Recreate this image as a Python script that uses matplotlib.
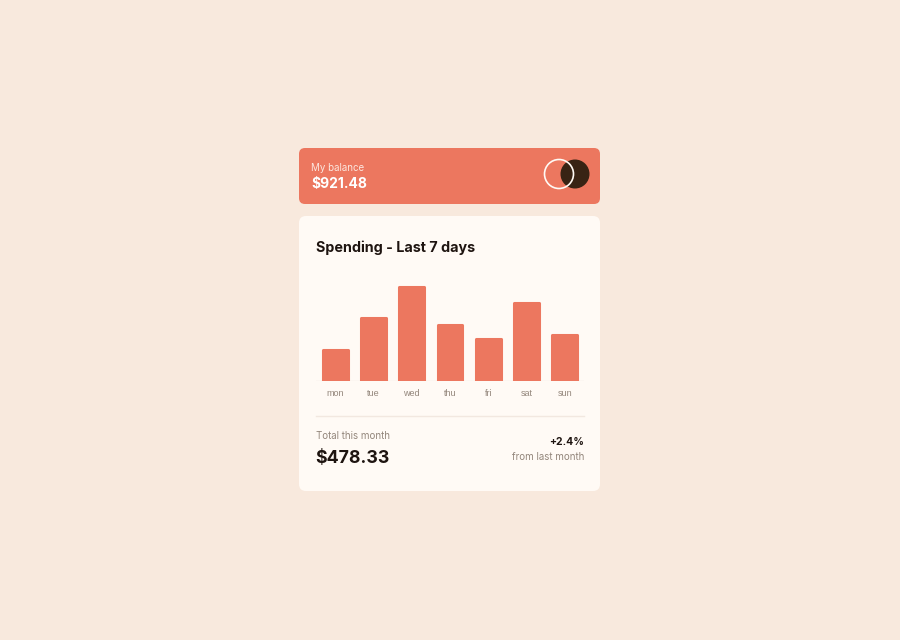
import matplotlib.pyplot as plt
from matplotlib.patches import FancyBboxPatch, Circle

days = ['mon', 'tue', 'wed', 'thu', 'fri', 'sat', 'sun']
amounts = [17.45, 34.91, 52.36, 31.07, 23.39, 43.28, 25.48]

balance = '$921.48'
total_month = '$478.33'
change = '+2.4%'

bg = '#F8E9DD'
red = '#EC775F'
dark = '#382314'
cream = '#FFFAF5'
grey = '#93867B'

plt.rcParams['font.family'] = ['Inter', 'DejaVu Sans']

fig = plt.figure(figsize=(9, 6.4), dpi=100)
fig.patch.set_facecolor(bg)

# full-figure axes in pixel coordinates for the cards
base = fig.add_axes([0, 0, 1, 1])
base.set_xlim(0, 900)
base.set_ylim(640, 0)
base.axis('off')

# balance card
base.add_patch(FancyBboxPatch((299, 148), 301, 56, boxstyle='round,pad=0,rounding_size=6',
                              facecolor=red, edgecolor='none'))
base.text(311, 168, 'My balance', color='#FCE6DE', fontsize=7, va='center')
base.text(311, 184, balance, color='white', fontsize=10, fontweight='bold', va='center')
base.add_patch(Circle((575, 174), 14.5, facecolor=dark, edgecolor='none'))
base.add_patch(Circle((559, 174), 14.5, facecolor='none', edgecolor='#FFFAF5', linewidth=1.2))

# spending card
base.add_patch(FancyBboxPatch((299, 216), 301, 275, boxstyle='round,pad=0,rounding_size=7',
                              facecolor=cream, edgecolor='none'))
base.text(316, 248, 'Spending - Last 7 days', color='#1E1410', fontsize=10.3, fontweight='bold', va='center')
base.plot([316, 584], [416, 416], color='#F2E8E0', linewidth=1)
base.text(316, 436, 'Total this month', color=grey, fontsize=7, va='center')
base.text(315, 458.5, total_month, color='#1E1410', fontsize=12.8, fontweight='bold', va='center')
base.text(584, 442, change, color='#1E1410', fontsize=7.5, fontweight='bold', va='center', ha='right')
base.text(584, 457, 'from last month', color=grey, fontsize=7, va='center', ha='right')

# bar chart
ax = fig.add_axes([316 / 900, (640 - 381) / 640, 268 / 900, 100 / 640])
ax.set_facecolor('none')
x = range(len(days))
ax.bar(x, amounts, width=0.65, color=red, edgecolor=red, linewidth=2.2, joinstyle='round')
ax.axhline(0, color='#F3EAE2', linewidth=1, zorder=0)
ax.set_xlim(-0.5, 6.5)
ax.set_ylim(0, 55.7)
ax.set_xticks(list(x))
ax.set_xticklabels(days, color=grey, fontsize=6.5, family='Liberation Sans')
ax.tick_params(axis='x', length=0, pad=5.5)
ax.set_yticks([])
for s in ax.spines.values():
    s.set_visible(False)

fig.savefig('out.png', dpi=100, facecolor=bg)
